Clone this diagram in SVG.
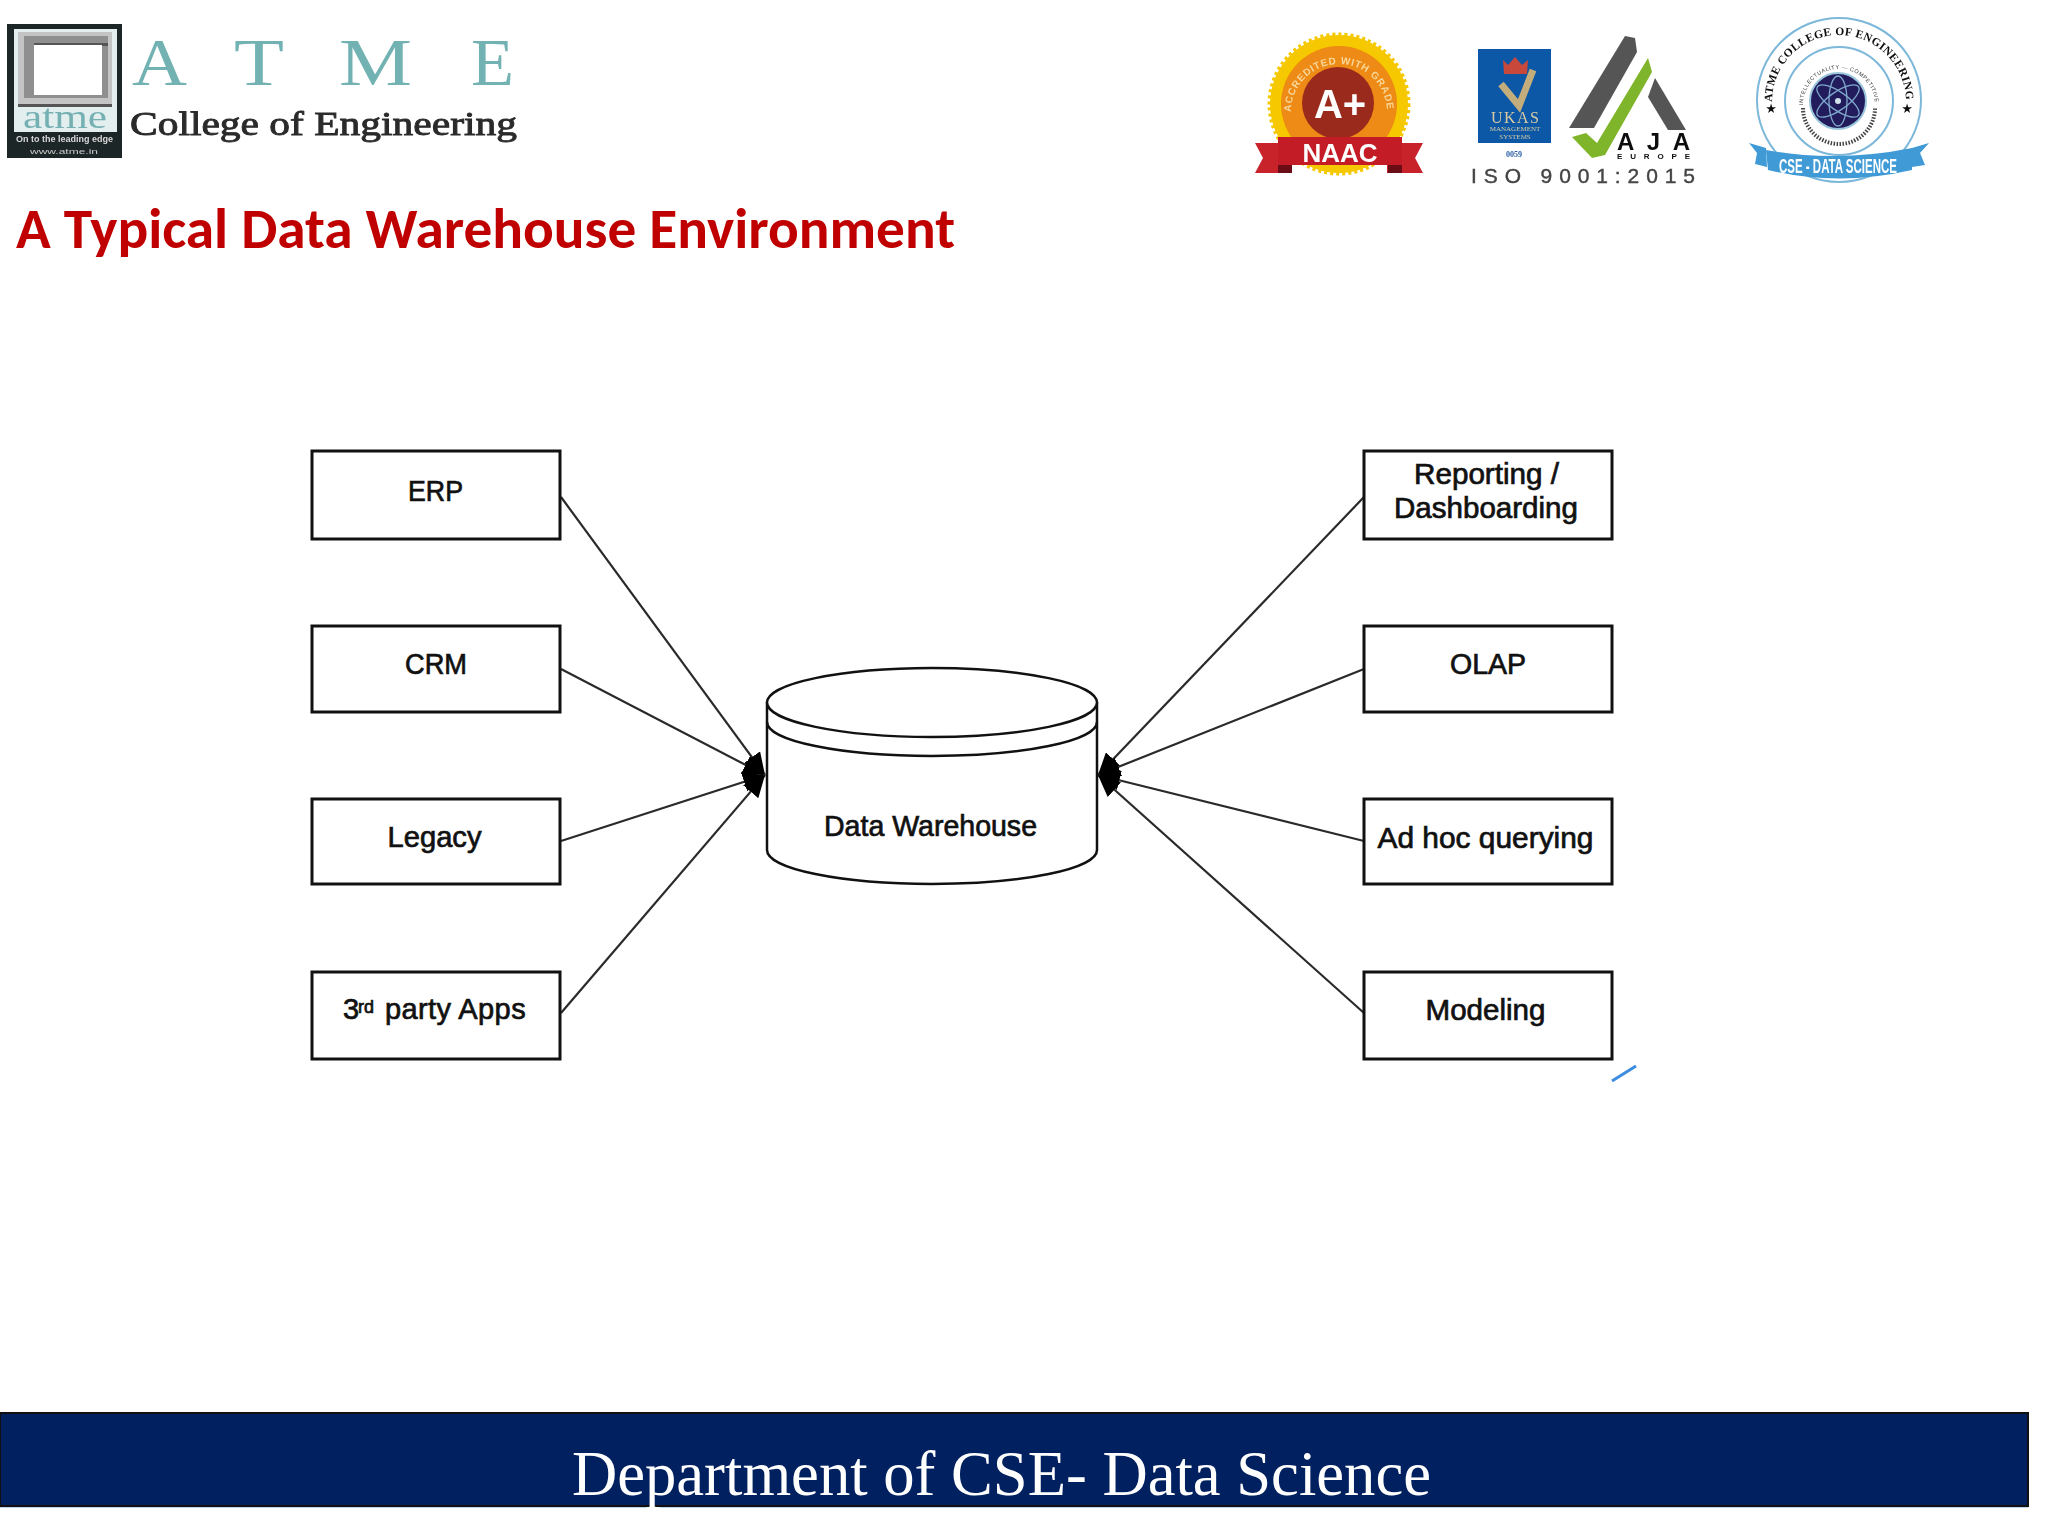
<svg xmlns="http://www.w3.org/2000/svg" xmlns:xlink="http://www.w3.org/1999/xlink" width="2048" height="1536" viewBox="0 0 2048 1536">
<style>
.box{fill:#fff;stroke:#111;stroke-width:3}
.cyl{fill:#fff;stroke:#111;stroke-width:2.5}
.cyl2{fill:none;stroke:#111;stroke-width:2.5}
.lbl{font-family:"Liberation Sans",Arial,sans-serif;font-size:29px;fill:#111;stroke:#111;stroke-width:.7;text-anchor:middle}
.con{stroke:#2a2a2a;stroke-width:2.2;fill:none;marker-end:url(#ah)}
.serif{font-family:"Liberation Serif","Times New Roman",serif}
.sans{font-family:"Liberation Sans",Arial,sans-serif}
.tm{fill:#72b2b2;font-size:68px}
.star{font-family:"DejaVu Sans",sans-serif;font-size:13px;fill:#111;text-anchor:middle}
</style>
<defs>
<marker id="ah" markerUnits="userSpaceOnUse" markerWidth="22" markerHeight="20" refX="22" refY="10" orient="auto"><path d="M0 0L22 10L0 20z" fill="#000"/></marker>
<filter id="soft" x="-5%" y="-5%" width="110%" height="110%"><feGaussianBlur stdDeviation="0.7"/></filter>
<path id="naacArc" d="M1291 112A48 48 0 0 1 1387 112"/>
<path id="cseArc" d="M1772 102A67 67 0 0 1 1906 102"/>
<path id="innerArc" d="M1803 105A36 36 0 0 1 1875 105"/>
</defs>
<rect width="2048" height="1536" fill="#fff"/>

<g id="logo-atme" filter="url(#soft)">
<rect x="7" y="24" width="115" height="134" fill="#1f2628"/>
<rect x="14" y="29" width="103" height="103" fill="#e3eeee"/>
<rect x="18" y="32" width="94" height="74" fill="#c4c4c4"/>
<rect x="24" y="36" width="84" height="62" fill="#8f8f8f"/>
<rect x="34" y="43" width="74" height="3" fill="#555"/>
<rect x="34" y="45" width="68" height="50" fill="#fff"/>
<rect x="18" y="104" width="94" height="3" fill="#555"/>
<text class="serif" x="23" y="128" font-size="34" fill="#74b0b2" textLength="84" lengthAdjust="spacingAndGlyphs">atme</text>
<text class="sans" x="16" y="142" font-size="9" font-weight="bold" fill="#d8d8d8" textLength="97" lengthAdjust="spacingAndGlyphs">On to the leading edge</text>
<text class="sans" x="30" y="154" font-size="8" fill="#c8c8c8" textLength="68" lengthAdjust="spacingAndGlyphs">www.atme.in</text>
<g class="serif">
<text class="tm" x="132" y="85" textLength="55" lengthAdjust="spacingAndGlyphs">A</text>
<text class="tm" x="234" y="85" textLength="50" lengthAdjust="spacingAndGlyphs">T</text>
<text class="tm" x="339" y="85" textLength="73" lengthAdjust="spacingAndGlyphs">M</text>
<text class="tm" x="471" y="85" textLength="43" lengthAdjust="spacingAndGlyphs">E</text>
<text x="130" y="135" font-size="34" fill="#2a2a2a" stroke="#2a2a2a" stroke-width=".9" textLength="387" lengthAdjust="spacingAndGlyphs">College of Engineering</text>
</g>
</g>

<g id="logo-naac" filter="url(#soft)">
<circle cx="1339" cy="104" r="69" fill="#f6c800" stroke="#f6c800" stroke-width="5" stroke-dasharray="3 3"/>
<circle cx="1339" cy="104" r="58" fill="#ee8a12"/>
<circle cx="1338" cy="103" r="36" fill="#9a2a1c"/>
<text class="sans" font-size="10" font-weight="bold" fill="#f7d79a"><textPath xlink:href="#naacArc" href="#naacArc" textLength="148" lengthAdjust="spacing">ACCREDITED WITH GRADE</textPath></text>
<polygon points="1255,143 1292,143 1292,173 1255,173 1263,158" fill="#c8202a"/>
<polygon points="1423,143 1387,143 1387,173 1423,173 1415,158" fill="#c8202a"/>
<rect x="1278" y="137" width="124" height="28" fill="#c41f26"/>
<rect x="1278" y="165" width="14" height="8" fill="#6b1014"/>
<rect x="1388" y="165" width="14" height="8" fill="#6b1014"/>
<text class="sans" x="1340" y="118" font-size="40" font-weight="bold" fill="#fff" text-anchor="middle">A+</text>
<text class="sans" x="1340" y="162" font-size="26" font-weight="bold" fill="#fff" text-anchor="middle">NAAC</text>
</g>

<g id="logo-iso" filter="url(#soft)">
<rect x="1478" y="49" width="73" height="94" fill="#0a58a6"/>
<path d="M1503 60L1508 65L1515 57L1522 65L1528 60L1527 74L1504 74z" fill="#c8483a"/>
<polyline points="1501,84 1519,106 1533,70" fill="none" stroke="#c3ad7c" stroke-width="7"/>
<text class="serif" x="1515" y="123" font-size="16" fill="#d9c9a3" text-anchor="middle" textLength="48" lengthAdjust="spacing">UKAS</text>
<text class="serif" x="1515" y="131" font-size="7" fill="#d9c9a3" text-anchor="middle">MANAGEMENT</text>
<text class="serif" x="1515" y="139" font-size="7" fill="#d9c9a3" text-anchor="middle">SYSTEMS</text>
<text class="serif" x="1514" y="157" font-size="8" font-weight="bold" fill="#2a5ea8" text-anchor="middle">0059</text>
<polygon points="1625,36 1635,38 1637,52 1594,128 1569,128" fill="#555"/>
<polygon points="1655,78 1686,130 1668,130 1648,97" fill="#555"/>
<polygon points="1572,137 1586,133 1597,143 1648,58 1652,72 1605,155 1592,158" fill="#7fb52a"/>
<text class="sans" x="1617" y="150" font-size="24" font-weight="bold" fill="#111" textLength="73" lengthAdjust="spacing">AJA</text>
<text class="sans" x="1617" y="159" font-size="8" font-weight="bold" fill="#111" textLength="73" lengthAdjust="spacing">EUROPE</text>
<text class="sans" x="1471" y="183" font-size="21" fill="#444" stroke="#444" stroke-width=".4" textLength="224" lengthAdjust="spacing">ISO 9001:2015</text>
</g>

<g id="logo-cse" filter="url(#soft)">
<circle cx="1839" cy="100" r="82" fill="#fff" stroke="#7db8da" stroke-width="2"/>
<circle cx="1839" cy="101" r="54" fill="#fff" stroke="#7db8da" stroke-width="2"/>
<text class="serif" font-size="11.5" font-weight="bold" fill="#111"><textPath xlink:href="#cseArc" href="#cseArc" textLength="208" lengthAdjust="spacing">ATME COLLEGE OF ENGINEERING</textPath></text>
<text class="star" x="1771" y="113">★</text>
<text class="star" x="1907" y="113">★</text>
<text class="sans" font-size="5.5" fill="#333"><textPath xlink:href="#innerArc" href="#innerArc" textLength="110" lengthAdjust="spacing">INTELLECTUALITY — COMPETITIVE</textPath></text>
<path d="M1803 108A36 36 0 0 0 1875 108" fill="none" stroke="#444" stroke-width="4" stroke-dasharray="1.5 1.5"/>
<circle cx="1838" cy="101" r="28" fill="#211d5c" stroke="#9cc6dc" stroke-width="2"/>
<g fill="none" stroke="#7fa8cc" stroke-width="1.3">
<ellipse cx="1838" cy="101" rx="25" ry="9" transform="rotate(35 1838 101)"/>
<ellipse cx="1838" cy="101" rx="25" ry="9" transform="rotate(-35 1838 101)"/>
<ellipse cx="1838" cy="101" rx="25" ry="9" transform="rotate(90 1838 101)"/>
</g>
<circle cx="1838" cy="101" r="3" fill="#cfe2ee"/>
<polygon points="1749,143 1766,148 1767,167 1755,164 1757,153" fill="#3f9ad6"/>
<polygon points="1929,143 1912,148 1912,167 1925,165 1920,153" fill="#3f9ad6"/>
<path d="M1766 150Q1838 163 1912 148L1912 170Q1838 187 1768 170z" fill="#3f9ad6"/>
<text class="sans" x="1779" y="173" font-size="21" font-weight="bold" fill="#fff" textLength="118" lengthAdjust="spacingAndGlyphs">CSE - DATA SCIENCE</text>
</g>

<text id="title" x="16" y="248" font-family="Carlito,Lato,'Liberation Sans',sans-serif" font-weight="700" font-size="56" fill="#c00000" textLength="939" lengthAdjust="spacingAndGlyphs">A Typical Data Warehouse Environment</text>

<g id="connectors">
<line class="con" x1="561" y1="497" x2="765" y2="775"/>
<line class="con" x1="561" y1="669" x2="765" y2="775"/>
<line class="con" x1="561" y1="841" x2="765" y2="775"/>
<line class="con" x1="561" y1="1013" x2="765" y2="775"/>
<line class="con" x1="1364" y1="497" x2="1098" y2="775"/>
<line class="con" x1="1364" y1="669" x2="1098" y2="775"/>
<line class="con" x1="1364" y1="841" x2="1098" y2="775"/>
<line class="con" x1="1364" y1="1013" x2="1098" y2="775"/>
</g>

<g id="node-erp"><rect class="box" x="312" y="451" width="248" height="88"/><text class="lbl" x="435.5" y="501" textLength="55" lengthAdjust="spacingAndGlyphs">ERP</text></g>
<g id="node-crm"><rect class="box" x="312" y="626" width="248" height="86"/><text class="lbl" x="436" y="674" textLength="62" lengthAdjust="spacingAndGlyphs">CRM</text></g>
<g id="node-legacy"><rect class="box" x="312" y="799" width="248" height="85"/><text class="lbl" x="434.5" y="847" textLength="94" lengthAdjust="spacingAndGlyphs">Legacy</text></g>
<g id="node-apps"><rect class="box" x="312" y="972" width="248" height="87"/><text class="lbl" style="text-anchor:start" x="343" y="1019">3<tspan x="358" y="1013" font-size="18">rd</tspan><tspan x="385" y="1019" letter-spacing=".4">party Apps</tspan></text></g>

<g id="node-warehouse">
<path class="cyl" d="M767 702V850A165 34 0 0 0 1097 850V702"/>
<ellipse class="cyl" cx="932" cy="702.5" rx="165" ry="34.5"/>
<path class="cyl2" d="M767 722A165 34 0 0 0 1097 722"/>
<text class="lbl" x="930.5" y="836" textLength="213" lengthAdjust="spacingAndGlyphs">Data Warehouse</text>
</g>

<g id="node-reporting"><rect class="box" x="1364" y="451" width="248" height="88"/><text class="lbl" x="1486.5" y="484" textLength="145" lengthAdjust="spacingAndGlyphs">Reporting /</text><text class="lbl" x="1486" y="518" textLength="184" lengthAdjust="spacingAndGlyphs">Dashboarding</text></g>
<g id="node-olap"><rect class="box" x="1364" y="626" width="248" height="86"/><text class="lbl" x="1488" y="674" textLength="76" lengthAdjust="spacingAndGlyphs">OLAP</text></g>
<g id="node-adhoc"><rect class="box" x="1364" y="799" width="248" height="85"/><text class="lbl" x="1485.5" y="848" textLength="216" lengthAdjust="spacingAndGlyphs">Ad hoc querying</text></g>
<g id="node-modeling"><rect class="box" x="1364" y="972" width="248" height="87"/><text class="lbl" x="1485.5" y="1020" textLength="120" lengthAdjust="spacingAndGlyphs">Modeling</text></g>

<line id="pen-mark" x1="1612" y1="1081" x2="1636" y2="1066" stroke="#3c8ce0" stroke-width="3"/>

<g id="footer">
<rect x="0" y="1413" width="2028" height="93" fill="#002060" stroke="#111" stroke-width="2"/>
<line x1="0" y1="1507.5" x2="2028" y2="1507.5" stroke="#bcd3ee" stroke-width="1"/>
<text class="serif" x="572" y="1495" font-size="64" fill="#fff" textLength="859" lengthAdjust="spacingAndGlyphs">Department of CSE- Data Science</text>
</g>
</svg>
